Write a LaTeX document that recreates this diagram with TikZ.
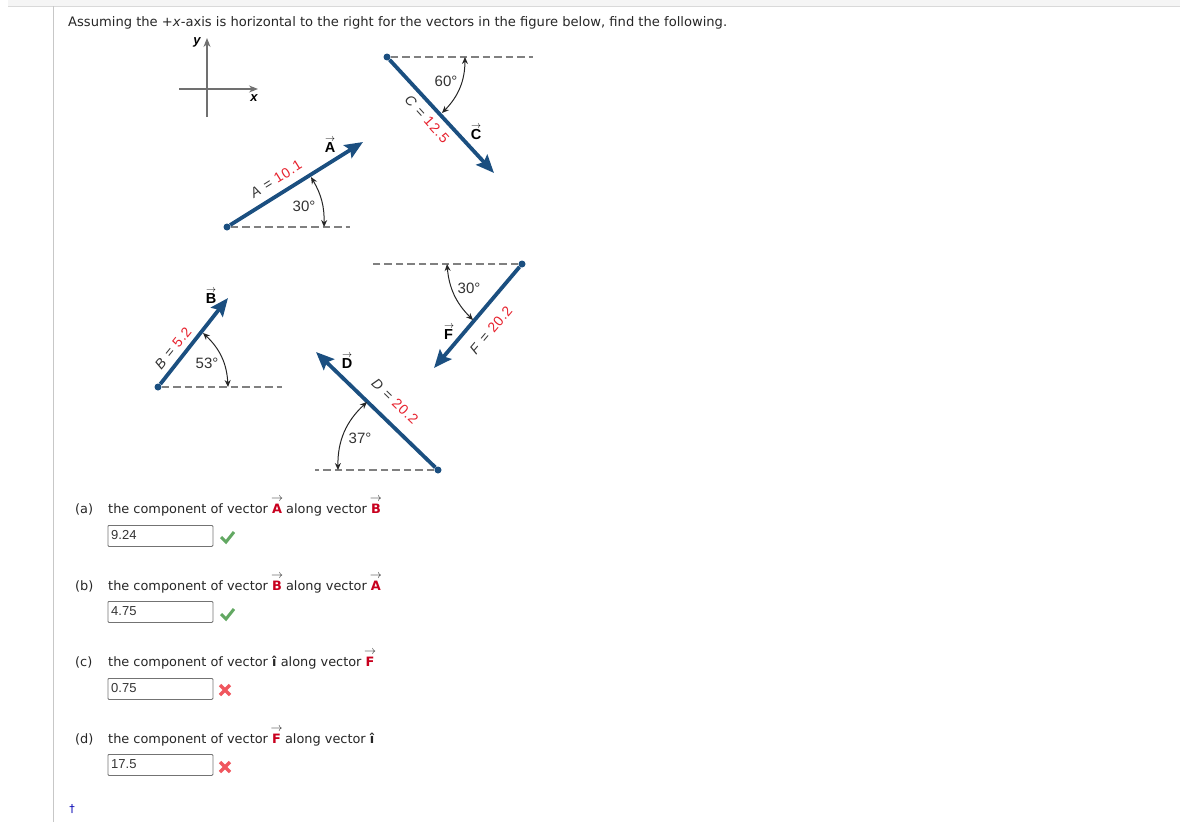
\documentclass[tikz,border=0pt]{standalone}
\usepackage{amsmath}
\usepackage{fontspec}
\setmainfont{DejaVu Sans}
\newfontfamily\figfont{Liberation Sans}
\newfontfamily\sizefont[LetterSpace=6]{Liberation Sans}
\usetikzlibrary{arrows.meta}
\definecolor{vecblue}{HTML}{1B4F80}
\definecolor{dashgray}{HTML}{808080}
\definecolor{ansred}{HTML}{C8001E}
\definecolor{labelred}{HTML}{E6202C}
\definecolor{inkgray}{HTML}{333333}
\definecolor{okgreen}{HTML}{62A862}
\definecolor{nored}{HTML}{F0565E}
\newcommand{\figvec}[1]{\ooalign{\hfil\raisebox{11pt}{$\scriptstyle\rightarrow$}\hfil\cr\figfont\bfseries #1\cr}}
\newcommand{\ansvec}[1]{$\overset{\makebox[0pt]{$\textstyle\rightarrow$}}{\mbox{\bfseries\color{ansred}#1}}$}
\newcommand{\magn}[2]{\textit{#1} = \textcolor{labelred}{#2}}
\begin{document}
\begin{tikzpicture}[x=1pt,y=-1pt]
    \tikzstyle{vector}=[line width=3.8pt, color=vecblue, -{Stealth[length=18pt,width=15pt,inset=3pt]}];
    \tikzstyle{tail}=[circle, fill=vecblue, inner sep=0pt, minimum size=7pt];
    \tikzstyle{baseline}=[dashed, dash pattern=on 7.5pt off 4pt, line width=1.2pt, color=dashgray];
    \tikzstyle{angle}=[line width=1pt, color=black!85, {Stealth[length=7pt,width=6pt]}-{Stealth[length=7pt,width=6pt]}];
    \tikzstyle{axis}=[line width=1.1pt, color=inkgray!70, -{Stealth[length=9pt,width=7pt]}];
    \tikzstyle{deg}=[font=\figfont\fontsize{15}{17}\selectfont, text=inkgray, inner sep=0pt];
    \tikzstyle{vecname}=[font=\fontsize{14.5}{16}\selectfont, inner sep=0pt, anchor=base];
    \tikzstyle{size}=[font=\sizefont\fontsize{14}{16}\selectfont, text=inkgray, inner sep=0pt];
    \tikzstyle{body}=[font=\fontsize{12.9}{15}\selectfont, text=black!85, anchor=base west, inner sep=0pt];
    \tikzstyle{answer}=[draw=black!55, line width=0.8pt, rounded corners=1pt, minimum width=105pt, minimum height=21pt, inner sep=0pt, anchor=north west];
    \tikzstyle{entry}=[font=\figfont\fontsize{13}{15}\selectfont, text=inkgray, anchor=west, inner sep=0pt];
    \tikzstyle{okmark}=[line width=3pt, color=okgreen];
    \tikzstyle{nomark}=[line width=3.4pt, color=nored];

    \useasboundingbox (0, 0) rectangle (1180, 822);

    % page frame
    \fill[black!4] (8, 0) rectangle (1180, 6);
    \draw[black!15, line width=1pt] (8, 6) -- (1180, 6);
    \draw[black!22, line width=1pt] (53, 6) -- (53, 822);

    \node (title) at (68, 26) [body, font=\fontsize{13.1}{15}\selectfont] {Assuming the +\textit{x}-axis is horizontal to the right for the vectors in the figure below, find the following.};

    % axes
    \coordinate (xl) at (179, 89);
    \coordinate (xr) at (258, 89);
    \coordinate (yb) at (207, 117);
    \coordinate (yt) at (207, 38);
    \draw[axis] (xl) -- (xr);
    \draw[axis] (yb) -- (yt);
    \node (ylab) at (197, 42) [font=\figfont\bfseries\itshape\fontsize{13}{15}\selectfont, inner sep=0pt] {y};
    \node (xlab) at (254, 98) [font=\figfont\bfseries\itshape\fontsize{13}{15}\selectfont, inner sep=0pt] {x};

    % vector A
    \node (a0) at (227, 227) [tail] {};
    \coordinate (a1) at (363, 142);
    \coordinate (ad) at (350, 227);
    \coordinate (aa) at (311, 177);
    \coordinate (ab) at (324, 227);
    \draw[baseline] (a0) -- (ad);
    \draw[vector] (a0) -- (a1);
    \draw[angle] (aa) to[bend left=16] (ab);
    \node (adeg) at (304, 206) [deg] {30°};
    \node (aname) at (330, 152) [vecname] {\figvec{A}};
    \node (asize) at (276, 179) [size, rotate=32] {\magn{A}{10.1}};

    % vector C
    \node (c0) at (387, 57) [tail] {};
    \coordinate (c1) at (494, 173);
    \coordinate (cd) at (533, 57);
    \coordinate (ca) at (465, 57);
    \coordinate (cb) at (442, 113);
    \draw[baseline] (c0) -- (cd);
    \draw[vector] (c0) -- (c1);
    \draw[angle] (ca) to[bend left=22] (cb);
    \node (cdeg) at (446, 81) [deg] {60°};
    \node (cname) at (476, 139) [vecname] {\figvec{C}};
    \node (csize) at (427, 119) [size, rotate=-48] {\magn{C}{12.5}};

    % vector B
    \node (b0) at (158, 387) [tail] {};
    \coordinate (b1) at (228, 298);
    \coordinate (bd) at (282, 387);
    \coordinate (ba) at (203, 333);
    \coordinate (bb) at (228, 387);
    \draw[baseline] (b0) -- (bd);
    \draw[vector] (b0) -- (b1);
    \draw[angle] (ba) to[bend left=22] (bb);
    \node (bdeg) at (207, 363) [deg] {53°};
    \node (bname) at (211, 303) [vecname] {\figvec{B}};
    \node (bsize) at (173, 348) [size, rotate=51] {\magn{B}{5.2}};

    % vector F
    \node (f0) at (522, 264) [tail] {};
    \coordinate (f1) at (434, 368);
    \coordinate (fd) at (373, 264);
    \coordinate (fa) at (447, 264);
    \coordinate (fb) at (473, 320);
    \draw[baseline] (f0) -- (fd);
    \draw[vector] (f0) -- (f1);
    \draw[angle] (fa) to[bend right=20] (fb);
    \node (fdeg) at (469, 288) [deg] {30°};
    \node (fname) at (449, 339) [vecname] {\figvec{F}};
    \node (fsize) at (491, 330) [size, rotate=50] {\magn{F}{20.2}};

    % vector D
    \node (d0) at (438, 470) [tail] {};
    \coordinate (d1) at (316, 352);
    \coordinate (dd) at (315, 470);
    \coordinate (da) at (367, 402);
    \coordinate (db) at (338, 470);
    \draw[baseline] (d0) -- (dd);
    \draw[vector] (d0) -- (d1);
    \draw[angle] (da) to[bend right=24] (db);
    \node (ddeg) at (360, 438) [deg] {37°};
    \node (dname) at (347, 368) [vecname] {\figvec{D}};
    \node (dsize) at (395, 401) [size, rotate=-44] {\magn{D}{20.2}};

    % parts
    \node (pa) at (75, 513) [body] {(a)};
    \node (qa) at (108, 513) [body] {the component of vector \ansvec{A} along vector \ansvec{B}};
    \node (boxa) at (107.5, 525) [answer] {};
    \node (enta) at (111, 535) [entry] {9.24};
    \draw[okmark] (221, 537) -- (226, 542) -- (234, 532);

    \node (pb) at (75, 590) [body] {(b)};
    \node (qb) at (108, 590) [body] {the component of vector \ansvec{B} along vector \ansvec{A}};
    \node (boxb) at (107.5, 601) [answer] {};
    \node (entb) at (111, 611) [entry] {4.75};
    \draw[okmark] (221, 614) -- (226, 619) -- (234, 609);

    \node (pc) at (75, 666) [body] {(c)};
    \node (qc) at (108, 666) [body] {the component of vector \textbf{î} along vector \ansvec{F}};
    \node (boxc) at (107.5, 678) [answer] {};
    \node (entc) at (111, 688) [entry] {0.75};
    \draw[nomark] (220, 685) -- (230, 695);
    \draw[nomark] (230, 685) -- (220, 695);

    \node (pd) at (75, 743) [body] {(d)};
    \node (qd) at (108, 743) [body] {the component of vector \ansvec{F} along vector \textbf{î}};
    \node (boxd) at (107.5, 754) [answer] {};
    \node (entd) at (111, 764) [entry] {17.5};
    \draw[nomark] (220, 762) -- (230, 772);
    \draw[nomark] (230, 762) -- (220, 772);

    \node (dag) at (72, 809) [font=\fontsize{11}{13}\selectfont, text=blue!70!black, inner sep=0pt] {†};
\end{tikzpicture}
\end{document}
